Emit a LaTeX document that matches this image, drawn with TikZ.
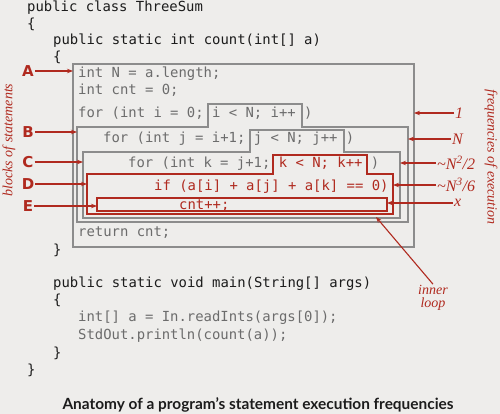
\documentclass[tikz,border=0pt]{standalone}
\usepackage{fontspec}
\setmonofont{DejaVu Sans Mono}
\newfontfamily\lblfont{DejaVu Sans}
\newfontfamily\notefont{Liberation Serif}
\newfontfamily\capfont{Lato}
\usetikzlibrary{arrows.meta, positioning}
\definecolor{pagebg}{HTML}{EEEDEB}
\definecolor{codeblack}{HTML}{1C1C1C}
\definecolor{codegray}{HTML}{6C6C6C}
\definecolor{boxgray}{HTML}{8C8C8C}
\definecolor{tsred}{HTML}{B02A1F}

\begin{document}
\begin{tikzpicture}[
      x=1pt, y=-1pt,
      code/.style={font=\ttfamily\fontsize{13.9}{16}\selectfont, text=#1,
                   inner sep=0pt, anchor=west, text height=9pt, text depth=0pt},
      code/.default=codegray,
      blockbox/.style={draw=boxgray, line width=1.4pt, line join=miter},
      redbox/.style={draw=tsred, line width=1.6pt, line join=miter},
      tag/.style={font=\lblfont\bfseries\fontsize{15}{16}\selectfont, text=tsred, inner sep=1pt},
      note/.style={font=\notefont\itshape\fontsize{14}{16}\selectfont, text=tsred, inner sep=1pt},
      freq/.style={note, anchor=west, font=\notefont\itshape\fontsize{16}{16}\selectfont},
      pointer/.style={draw=tsred, line width=1.1pt, -{Stealth[length=6pt, width=4.5pt]}},
    ]
    \useasboundingbox[fill=pagebg] (0,0) rectangle (500,414);

    % statement blocks
    \draw[blockbox] (73,64) rectangle (414,247);
    \draw[blockbox] (77,127) -- (208,127) -- (208,104) -- (302,104) -- (302,127)
      -- (408,127) -- (408,222) -- (77,222) -- cycle;
    \draw[blockbox] (83,152) -- (250,152) -- (250,130) -- (344,130) -- (344,152)
      -- (400,152) -- (400,218) -- (83,218) -- cycle;
    \draw[redbox] (87,174) -- (273,174) -- (273,155) -- (367,155) -- (367,174)
      -- (393,174) -- (393,214) -- (87,214) -- cycle;
    \draw[redbox] (97,198) rectangle (387,211);

    % code lines
    \node[code=codeblack] (cls) at (27,7) {public class ThreeSum};
    \node[code=codeblack] (cob) at (27,24) {\{};
    \node[code=codeblack] (cnt) at (53,40) {public static int count(int[] a)};
    \node[code=codeblack] (fob) at (53,57) {\{};
    \node[code] (ln) at (78,73) {int N = a.length;};
    \node[code] (lc) at (78,90) {int cnt = 0;};
    \node[code] (li) at (78,113) {for (int i = 0; i < N; i++ )};
    \node[code] (lj) at (103,138) {for (int j = i+1; j < N; j++ )};
    \node[code] (lk) at (128,163) {for (int k = j+1; \textcolor{tsred}{k < N; k++} )};
    \node[code=tsred] (lif) at (154,186) {if (a[i] + a[j] + a[k] == 0)};
    \node[code=tsred] (linc) at (179,205) {cnt++;};
    \node[code] (lret) at (78,232) {return cnt;};
    \node[code=codeblack] (fcb) at (53,250) {\}};
    \node[code=codeblack] (mn) at (53,283) {public static void main(String[] args)};
    \node[code=codeblack] (mob) at (53,300) {\{};
    \node[code] (lrd) at (78,317) {int[] a = In.readInts(args[0]);};
    \node[code] (lpr) at (78,335) {StdOut.println(count(a));};
    \node[code=codeblack] (mcb) at (53,353) {\}};
    \node[code=codeblack] (ccb) at (27,370) {\}};

    % block tags
    \node[tag] (ta) at (28,71) {A};
    \node[tag] (tb) at (28,132) {B};
    \node[tag] (tc) at (28,162) {C};
    \node[tag] (td) at (28,184) {D};
    \node[tag] (te) at (28,206) {E};
    \coordinate (ea) at (73,71);
    \coordinate (eb) at (77,132);
    \coordinate (ec) at (83,162);
    \coordinate (ed) at (87,184);
    \coordinate (ee) at (97,206);
    \draw[pointer] (ta) -- (ea);
    \draw[pointer] (tb) -- (eb);
    \draw[pointer] (tc) -- (ec);
    \draw[pointer] (td) -- (ed);
    \draw[pointer] (te) -- (ee);
    \node[note, rotate=90] (blk) at (9,140) {blocks of statements};

    % frequencies
    \node[freq] (f1) at (454,113) {1};
    \node[freq] (fn) at (451,139) {N};
    \node[freq] (fn2) at (436,163) {\textasciitilde N\textsuperscript{2}/2};
    \node[freq] (fn3) at (436,185) {\textasciitilde N\textsuperscript{3}/6};
    \node[freq] (fx) at (453,203) {x};
    \coordinate (ra) at (414,113);
    \coordinate (rb) at (408,139);
    \coordinate (rc) at (400,163);
    \coordinate (rd) at (393,185);
    \coordinate (re) at (387,203);
    \draw[pointer] (f1) -- (ra);
    \draw[pointer] (fn) -- (rb);
    \draw[pointer] (fn2) -- (rc);
    \draw[pointer] (fn3) -- (rd);
    \draw[pointer] (fx) -- (re);
    \node[note, rotate=-90] (frq) at (491,157) {frequencies of execution};

    \node[note, align=center, font=\notefont\itshape\fontsize{14}{13}\selectfont] (inl) at (433,298) {inner\\loop};
    \coordinate (inl tip) at (376,217);
    \draw[pointer] (inl.north) -- (inl tip);

    \node[font=\capfont\bfseries\fontsize{15.4}{16}\selectfont, text=codeblack] (cap) at (258,405)
      {Anatomy of a program’s statement execution frequencies};
  \end{tikzpicture}
\end{document}
